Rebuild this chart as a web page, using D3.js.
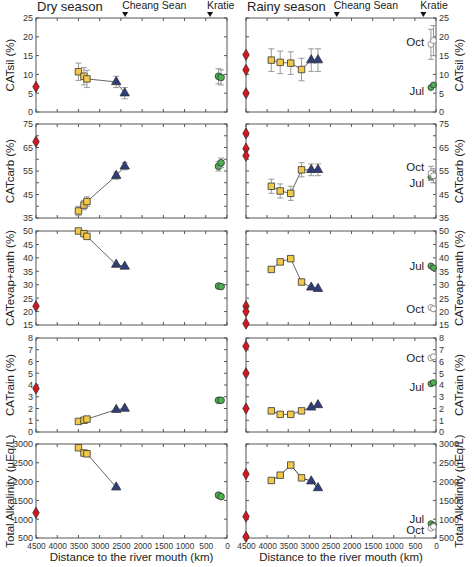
<!DOCTYPE html>
<html><head><meta charset="utf-8">
<script src="https://cdn.jsdelivr.net/npm/d3@7"></script>
<style>body{margin:0;background:#fff}text{font-family:"Liberation Sans",Arial,sans-serif}</style>
</head><body><svg id="c" width="474" height="567"></svg>
<script>
// distances (km)
const drySqDist = [3500, 3370, 3300];
const dryTriDist = [2610, 2410];
const dryGrDist = [200, 140];
const rainySqDist = [3900, 3690, 3440, 3185];
const rainyTriDist = [2955, 2795];
const rainyKrDist = [120, 60];
const xTicks = [4500, 4000, 3500, 3000, 2500, 2000, 1500, 1000, 500, 0];

// panels: domain, ticks, label
const panels = [
  {key: "sil", label: "CATsil (%)", domain: [0, 25], ticks: [0, 5, 10, 15, 20, 25], minor: 5},
  {key: "carb", label: "CATcarb (%)", domain: [35, 75], ticks: [35, 45, 55, 65, 75], minor: 5},
  {key: "evap", label: "CATevap+anth (%)", domain: [15, 50], ticks: [15, 20, 25, 30, 35, 40, 45, 50], minor: 5},
  {key: "rain", label: "CATrain (%)", domain: [0, 8], ticks: [0, 1, 2, 3, 4, 5, 6, 7, 8], minor: 1},
  {key: "ta", label: "Total Alkalinity (µEq/L)", domain: [500, 3000], ticks: [500, 1000, 1500, 2000, 2500, 3000], minor: 500}
];

// dry season values
const dryRed = {sil: [6.7], carb: [67.5], evap: [22], rain: [3.7], ta: [1170]};
const drySq = {sil: [10.7, 9.5, 8.8], carb: [38, 40.5, 42], evap: [50, 49, 48], rain: [0.9, 1.0, 1.1], ta: [2900, 2760, 2740]};
const dryTri = {sil: [8.0, 5.0], carb: [53, 57], evap: [37.5, 36.8], rain: [1.9, 2.0], ta: [1850]};
const dryGr = {sil: [9.5, 9.2], carb: [57, 58.5], evap: [29.5, 29.3], rain: [2.7, 2.7], ta: [1640, 1600]};
const dryErr = {sil: [2.3, 1.5, 2.0], carb: [2.0, 1.5, 2.0]};

// rainy season values
const rainyRed = {sil: [15.2, 11.2, 5], carb: [71, 64.5, 61.5], evap: [22, 20, 15.5], rain: [7.3, 5, 2], ta: [2200, 1070, 530]};
const rainySq = {sil: [13.8, 13.2, 13.0, 11.3], carb: [48.5, 46.5, 45.5, 55.5], evap: [35.7, 38.5, 39.7, 31], rain: [1.8, 1.5, 1.5, 1.8], ta: [2030, 2170, 2440, 2100]};
const rainyTri = {sil: [13.8, 13.8], carb: [55.5, 55.5], evap: [29, 28.5], rain: [2.1, 2.3], ta: [2010, 1830]};
const rainyJul = {sil: [6.5, 7.2], carb: [52.5, 53], evap: [37, 36.3], rain: [4.1, 4.2], ta: [880, 840]};
const rainyOct = {sil: [18, 19], carb: [54, 53], evap: [21.5, 21], rain: [6.3, 6.4], ta: [760, 800]};
const rainyErr = {sil: [3, 3, 4], carb: [3, 2.5, 3]};
const labelPos = {sil: {Oct: 18.5, Jul: 5.5}, carb: {Oct: 56.5, Jul: 50}, evap: {Jul: 37, Oct: 21}, rain: {Oct: 6.3, Jul: 3.8}, ta: {Jul: 1000, Oct: 720}};

const svg = d3.select("#c");
const tops = [18, 124, 231, 338, 444], ph = 94;
const cols = [{x0: 36, x1: 227, side: "left"}, {x0: 246, x1: 436, side: "right"}];

const sqF = "#f0c84a", triF = "#2e3d7c", grF = "#4caf50", redF = "#d8141c";
const sym = (type, size) => d3.symbol().type(type).size(size)();

cols.forEach((col, ci) => {
  const x = d3.scaleLinear().domain([4500, 0]).range([col.x0, col.x1]);
  panels.forEach((p, pi) => {
    const y = d3.scaleLinear().domain(p.domain).range([tops[pi] + ph, tops[pi]]);
    const g = svg.append("g");
    g.append("rect").attr("x", col.x0).attr("y", tops[pi]).attr("width", col.x1 - col.x0).attr("height", ph)
      .attr("fill", "none").attr("stroke", "#555").attr("stroke-width", 1);
    // ticks inward
    xTicks.forEach(t => {
      g.append("line").attr("x1", x(t)).attr("x2", x(t)).attr("y1", tops[pi]).attr("y2", tops[pi] + 3).attr("stroke", "#555");
      g.append("line").attr("x1", x(t)).attr("x2", x(t)).attr("y1", tops[pi] + ph).attr("y2", tops[pi] + ph - 3).attr("stroke", "#555");
    });
    d3.range(p.domain[0], p.domain[1] + 1e-9, p.minor).forEach(t => {
      g.append("line").attr("x1", col.x0).attr("x2", col.x0 + 3).attr("y1", y(t)).attr("y2", y(t)).attr("stroke", "#555");
      g.append("line").attr("x1", col.x1).attr("x2", col.x1 - 3).attr("y1", y(t)).attr("y2", y(t)).attr("stroke", "#555");
    });
    const ax = col.side === "left" ? d3.axisLeft(y) : d3.axisRight(y);
    const a = g.append("g").attr("transform", `translate(${col.side === "left" ? col.x0 : col.x1},0)`)
      .call(ax.tickValues(p.ticks).tickFormat(d3.format("d")).tickSize(0).tickPadding(3));
    a.select(".domain").remove();
    a.selectAll("text").attr("font-size", 9).attr("fill", "#333");
    // y label
    const lx = col.side === "left" ? 14 : 463;
    g.append("text").attr("transform", `translate(${lx},${tops[pi] + ph / 2}) rotate(-90)`)
      .attr("text-anchor", "middle").attr("font-size", 11.5).attr("fill", "#222").text(p.label);
    if (pi === 4) {
      const xa = g.append("g").attr("transform", `translate(0,${tops[pi] + ph})`)
        .call(d3.axisBottom(x).tickValues(xTicks).tickFormat(d3.format("d")).tickSize(0).tickPadding(5));
      xa.select(".domain").remove();
      xa.selectAll("text").attr("font-size", 8.3).attr("fill", "#333");
      g.append("text").attr("x", (col.x0 + col.x1) / 2).attr("y", 561).attr("text-anchor", "middle")
        .attr("font-size", 11.5).attr("fill", "#222").text("Distance to the river mouth (km)");
    }

    const dry = ci === 0;
    const errs = dry ? dryErr[p.key] : rainyErr[p.key];
    const series = dry
      ? [{d: [4500], v: dryRed[p.key], t: d3.symbolDiamond, f: redF, s: 36},
         {d: drySqDist, v: drySq[p.key], t: d3.symbolSquare, f: sqF, s: 42, e: errs && errs[0]},
         {d: dryTriDist, v: dryTri[p.key], t: d3.symbolTriangle, f: triF, s: 38, e: errs && errs[1]},
         {d: dryGrDist, v: dryGr[p.key], t: d3.symbolCircle, f: grF, s: 36, e: errs && errs[2]}]
      : [{d: [4500, 4500, 4500], v: rainyRed[p.key], t: d3.symbolDiamond, f: redF, s: 36},
         {d: rainySqDist, v: rainySq[p.key], t: d3.symbolSquare, f: sqF, s: 42, e: errs && errs[0]},
         {d: rainyTriDist, v: rainyTri[p.key], t: d3.symbolTriangle, f: triF, s: 38, e: errs && errs[1]},
         {d: rainyKrDist, v: rainyJul[p.key], t: d3.symbolCircle, f: grF, s: 28},
         {d: rainyKrDist, v: rainyOct[p.key], t: d3.symbolCircle, f: "#fff", s: 28, e: errs && errs[2]}];

    // connecting line through squares and triangles
    const lp = series[1].d.map((d, i) => [d, series[1].v[i]])
      .concat(series[2].v.map((v, i) => [series[2].d[i], v]));
    g.append("path").attr("d", d3.line().x(d => x(d[0])).y(d => y(d[1]))(lp))
      .attr("fill", "none").attr("stroke", pi === 4 && !dry ? "#333" : "#666").attr("stroke-width", 1);

    series.forEach(s => {
      s.v.forEach((v, i) => {
        const cx = x(s.d[i]), cy = y(v);
        if (s.e) {
          g.append("line").attr("x1", cx).attr("x2", cx).attr("y1", y(v - s.e)).attr("y2", y(v + s.e)).attr("stroke", "#999");
          [v - s.e, v + s.e].forEach(w => g.append("line").attr("x1", cx - 3).attr("x2", cx + 3)
            .attr("y1", y(w)).attr("y2", y(w)).attr("stroke", "#999"));
        }
        g.append("path").attr("d", sym(s.t, s.s)).attr("transform", `translate(${cx},${cy})`)
          .attr("fill", s.f).attr("stroke", s.f === "#fff" ? "#777" : "#333").attr("stroke-width", 0.8);
      });
    });

    if (!dry) {
      Object.entries(labelPos[p.key]).forEach(([k, v]) => {
        g.append("text").attr("x", x(280)).attr("y", y(v) + 4).attr("text-anchor", "end")
          .attr("font-size", 11.5).attr("fill", "#222").text(k);
      });
    }
  });

  // top titles and station markers
  svg.append("text").attr("x", col.x0 + 1).attr("y", 11).attr("font-size", 13).attr("fill", "#222")
    .text(ci === 0 ? "Dry season" : "Rainy season");
  const stations = ci === 0 ? [["Cheang Sean", 2400], ["Kratie", 400]] : [["Cheang Sean", 2350], ["Kratie", 300]];
  stations.forEach(([n, d]) => {
    const sx = x(d);
    svg.append("path").attr("d", `M${sx - 3},12 L${sx + 3},12 L${sx},17 Z`).attr("fill", "#111");
    svg.append("text").attr("x", sx - 3).attr("y", 9).attr("font-size", 10.5).attr("fill", "#222").text(n);
  });
});
</script></body></html>
